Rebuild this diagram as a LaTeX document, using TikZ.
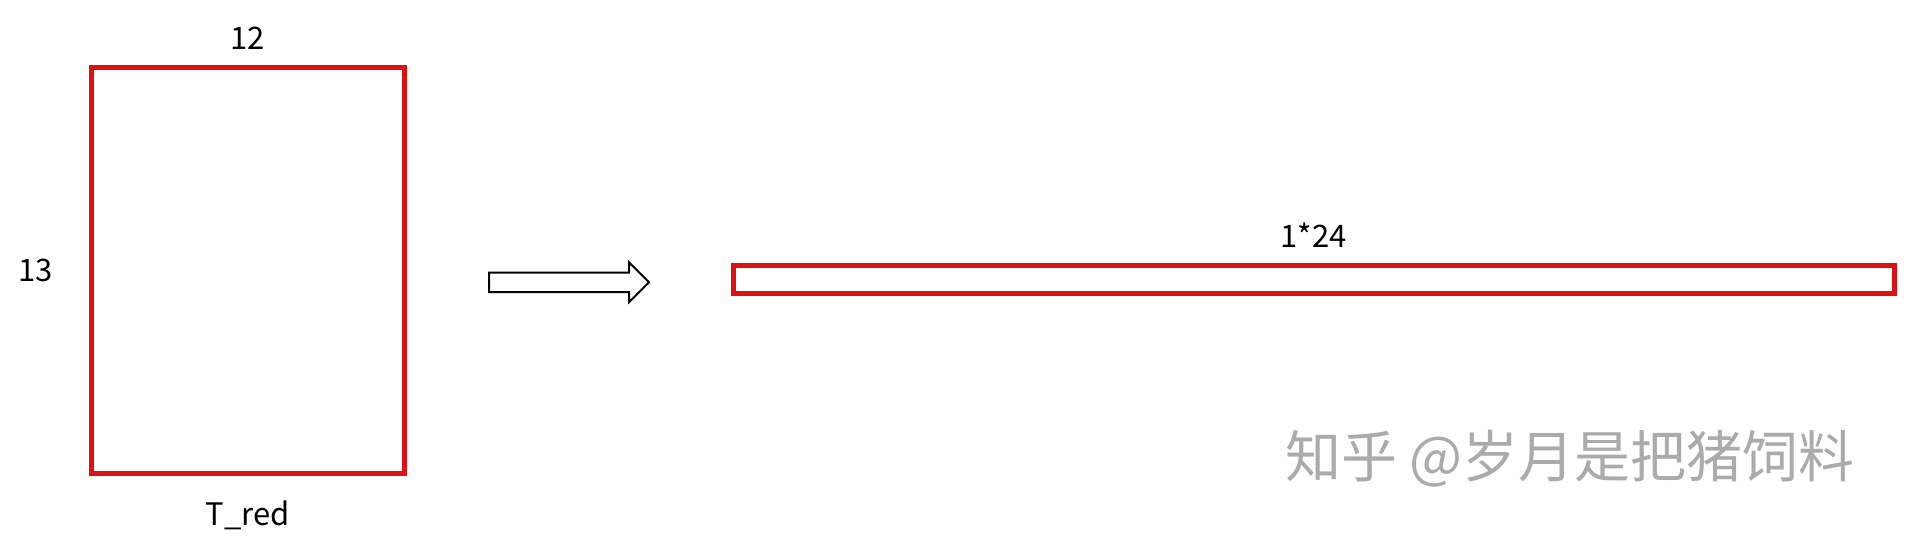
\documentclass[tikz,border=0pt]{standalone}
\usepackage{fontspec}
\setmainfont{Noto Sans CJK SC}
\usetikzlibrary{positioning,shapes.arrows}
\definecolor{boxred}{RGB}{224,16,16}
\tikzset{
  redbox/.style={draw=boxred, line width=2.5pt, inner sep=0pt, outer sep=0pt},
  dimlabel/.style={inner sep=0pt, font=\fontsize{15.5}{18}\selectfont},
}
\begin{document}
\begin{tikzpicture}[x=0.5pt, y=-0.5pt]
\useasboundingbox (0,0) rectangle (1906,536);
% matrix before reshaping
\node[redbox, minimum width=156.25pt, minimum height=202.75pt] (tred) at (247.75,270.25) {};
\node[dimlabel, above=8.75pt of tred] (twidth) {12};
\node[dimlabel, left=19.25pt of tred] (theight) {13};
\node[dimlabel, below=13.5pt of tred] (tname) {T\_red};
% reshape arrow
\node[single arrow, draw, line width=1pt, inner sep=4.4pt, outer sep=0pt,
      minimum height=80pt, single arrow head extend=5pt, anchor=tail] (reshape) at (489,282.3) {};
% flattened row
\node[redbox, minimum width=580.5pt, minimum height=14.25pt] (flat) at (1313.5,279.25) {};
\node[dimlabel, above=8.5pt of flat] (fsize) {1*24};
\node[font=\fontsize{28}{30}\selectfont, text=black!33, inner sep=0pt] (mark) at (1570,459) {知乎 @岁月是把猪饲料};
\end{tikzpicture}
\end{document}
